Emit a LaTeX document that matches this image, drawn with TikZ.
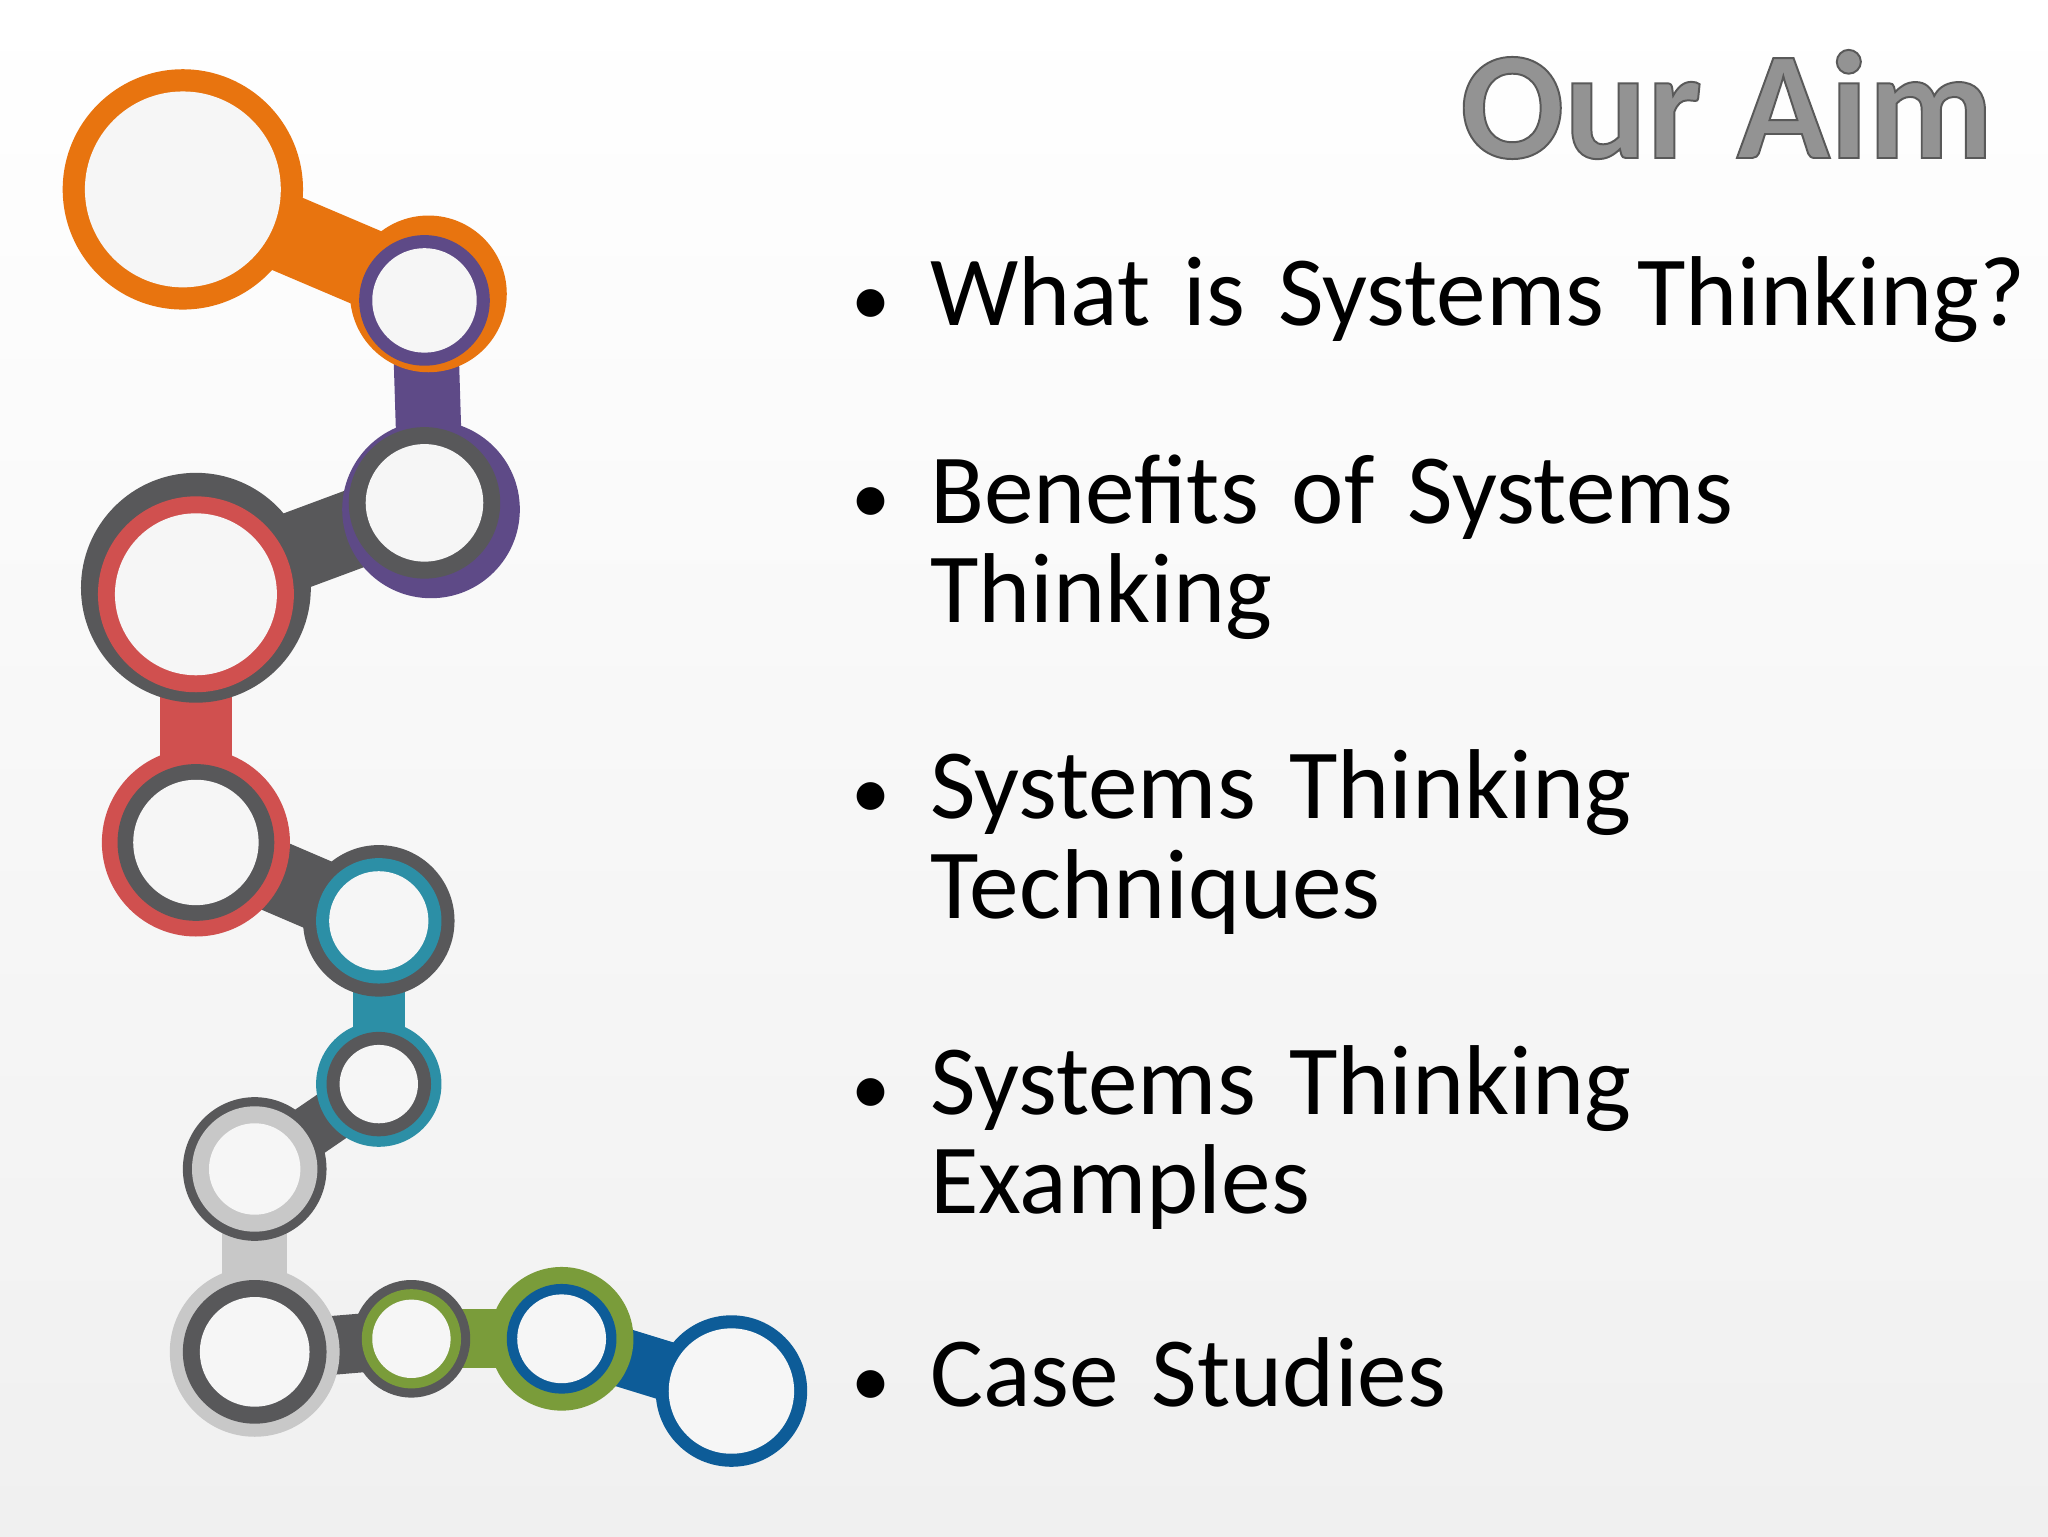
\documentclass[tikz,border=0pt]{standalone}
\usepackage{fontspec}
\setmainfont{Carlito}
\definecolor{cOr}{HTML}{E8740F}
\definecolor{cPu}{HTML}{5E4A87}
\definecolor{cDg}{HTML}{58585A}
\definecolor{cRe}{HTML}{D0504F}
\definecolor{cTe}{HTML}{2C8FA6}
\definecolor{cLg}{HTML}{C8C8C8}
\definecolor{cGr}{HTML}{7A9C3A}
\definecolor{cBl}{HTML}{0D5C98}
\definecolor{bg}{HTML}{F0F0F0}
\tikzset{neck/.style={line width=#1, line cap=round},
 item/.style={anchor=north west, font=\fontsize{76}{76}\selectfont, align=left, text width=900pt, inner sep=0pt}}
\begin{document}
\begin{tikzpicture}[x=1pt,y=-1pt]
\shade[top color=white,bottom color=bg] (0,0) rectangle (1568,1176);
\useasboundingbox (0,0) rectangle (1568,1176);
% necks
\draw[neck=60pt,cOr] (140,145) -- (328,225);
\draw[neck=50pt,cPu] (325,230) -- (330,390);
\draw[neck=60pt,cDg] (325,385) -- (150,450);
\draw[neck=55pt,cRe] (150,455) -- (150,645);
\draw[neck=55pt,cDg] (150,645) -- (290,705);
\draw[neck=40pt,cTe] (290,705) -- (290,830);
\draw[neck=40pt,cDg] (290,830) -- (195,895);
\draw[neck=50pt,cLg] (195,895) -- (195,1035);
\draw[neck=45pt,cDg] (195,1035) -- (315,1025);
\draw[neck=45pt,cGr] (315,1025) -- (430,1025);
\draw[neck=45pt,cBl] (430,1025) -- (560,1065);
% rings
\fill[cOr] (140,145) circle (92);
\fill[cOr] (328,225) circle (60);
\fill[cPu] (325,230) circle (50);
\fill[cPu] (330,390) circle (68);
\fill[cDg] (325,385) circle (58);
\fill[cDg] (150,450) circle (88);
\fill[cRe] (150,455) circle (75);
\fill[cRe] (150,645) circle (72);
\fill[cDg] (150,645) circle (60);
\fill[cDg] (290,705) circle (58);
\fill[cTe] (290,705) circle (48);
\fill[cTe] (290,830) circle (48);
\fill[cDg] (290,830) circle (40);
\fill[cDg] (195,895) circle (55);
\fill[cLg] (195,895) circle (48);
\fill[cLg] (195,1035) circle (65);
\fill[cDg] (195,1035) circle (55);
\fill[cDg] (315,1025) circle (45);
\fill[cGr] (315,1025) circle (38);
\fill[cGr] (430,1025) circle (55);
\fill[cBl] (430,1025) circle (42);
\fill[cBl] (560,1065) circle (58);
% holes
\foreach \c/\r/\n in {{140,145}/75/hA,{325,230}/40/hB,{325,385}/45/hC,{150,455}/62/hD,{150,645}/48/hE,{290,705}/38/hF,{290,830}/30/hG,{195,895}/35/hH,{195,1035}/42/hI,{315,1025}/30/hJ,{430,1025}/34/hK,{560,1065}/48/hL}
  \fill[bg!60!white] (\c) circle (\r) coordinate (\n);
% title
\node[anchor=center, font=\fontsize{118}{118}\selectfont\bfseries, text=gray!85, draw=none] (title) at (1322,80) {\special{pdf:literal 2 Tr 1.5 w 0.35 0.35 0.35 RG}Our Aim\special{pdf:literal 0 Tr}};
% bullets
\node[item] (b1) at (652,196) {\makebox[60pt][l]{\fontsize{60}{60}\selectfont•}What is Systems Thinking?};
\node[item] (b2) at (652,348) {\makebox[60pt][l]{\fontsize{60}{60}\selectfont•}Benefits of Systems\\\hspace{60pt}Thinking};
\node[item] (b3) at (652,574) {\makebox[60pt][l]{\fontsize{60}{60}\selectfont•}Systems Thinking\\\hspace{60pt}Techniques};
\node[item] (b4) at (652,800) {\makebox[60pt][l]{\fontsize{60}{60}\selectfont•}Systems Thinking\\\hspace{60pt}Examples};
\node[item] (b5) at (652,1024) {\makebox[60pt][l]{\fontsize{60}{60}\selectfont•}Case Studies};
\end{tikzpicture}
\end{document}
